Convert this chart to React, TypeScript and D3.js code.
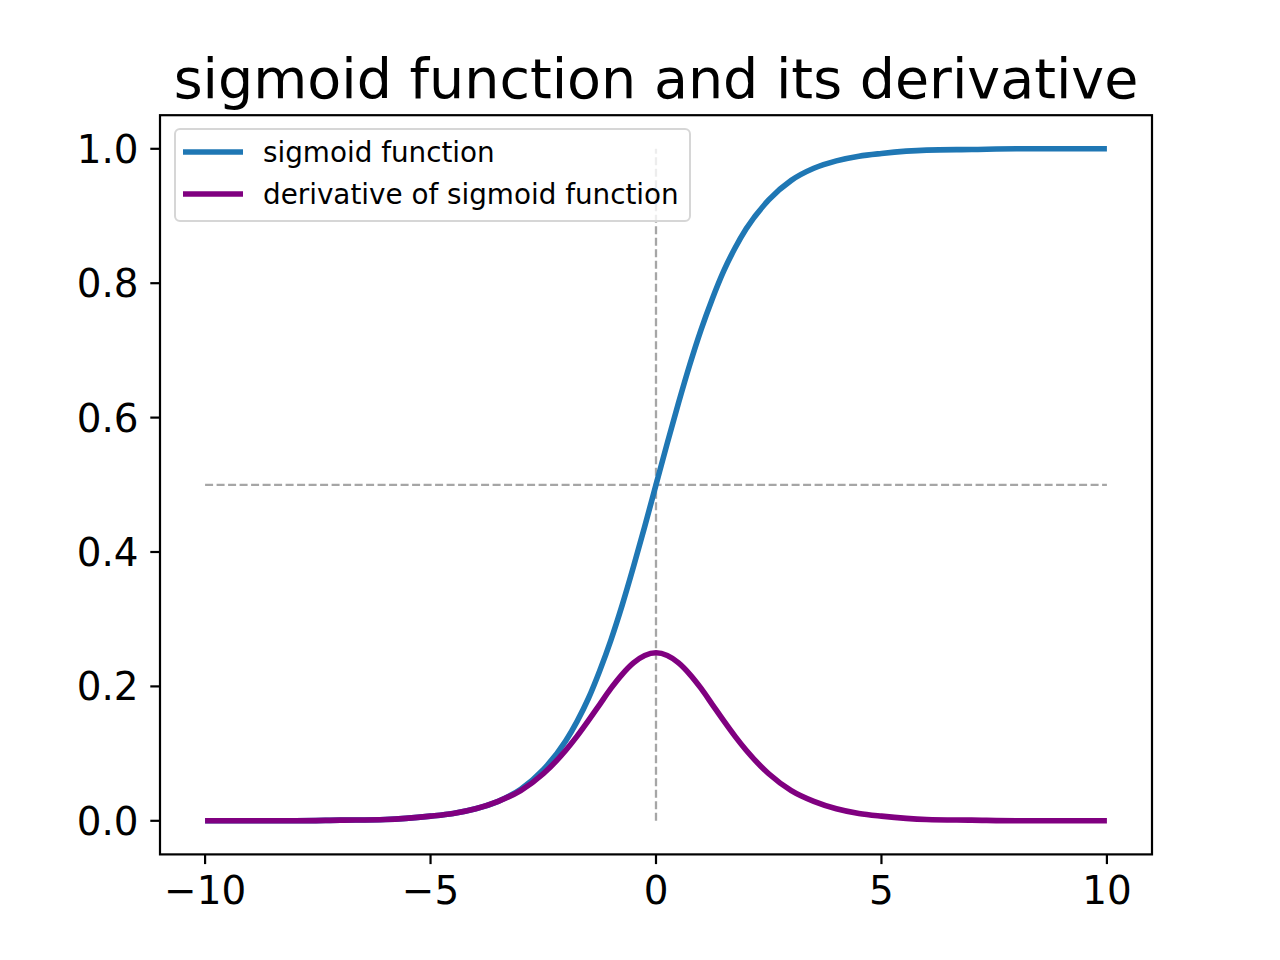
import React from "react";
import * as d3 from "d3";

const xValues = [-10, -9, -8, -7, -6, -5, -4.5, -4, -3.5, -3, -2.5, -2, -1.75, -1.5, -1.25, -1, -0.75, -0.5, -0.25, 0, 0.25, 0.5, 0.75, 1, 1.25, 1.5, 1.75, 2, 2.5, 3, 3.5, 4, 4.5, 5, 6, 7, 8, 9, 10];
const sigmoidValues = [0.0, 0.0, 0.0, 0.001, 0.002, 0.007, 0.011, 0.018, 0.029, 0.047, 0.076, 0.119, 0.148, 0.182, 0.223, 0.269, 0.321, 0.378, 0.438, 0.5, 0.562, 0.622, 0.679, 0.731, 0.777, 0.818, 0.852, 0.881, 0.924, 0.953, 0.971, 0.982, 0.989, 0.993, 0.998, 0.999, 1.0, 1.0, 1.0];
const derivativeValues = [0.0, 0.0, 0.0, 0.001, 0.002, 0.007, 0.011, 0.018, 0.029, 0.045, 0.070, 0.105, 0.126, 0.149, 0.173, 0.197, 0.218, 0.235, 0.246, 0.25, 0.246, 0.235, 0.218, 0.197, 0.173, 0.149, 0.126, 0.105, 0.070, 0.045, 0.029, 0.018, 0.011, 0.007, 0.002, 0.001, 0.0, 0.0, 0.0];
const xTicks = [-10, -5, 0, 5, 10];
const yTicks = [0.0, 0.2, 0.4, 0.6, 0.8, 1.0];
const seriesNames = ["sigmoid function", "derivative of sigmoid function"];
const seriesColors = ["#1f77b4", "#800080"];
const titleText = "sigmoid function and its derivative";

export default function App() {
  const W = 1280, H = 960;
  const left = 160, right = 1152, top = 115.2, bottom = 854.4;
  const x = d3.scaleLinear().domain([-11, 11]).range([left, right]);
  const y = d3.scaleLinear().domain([-0.05, 1.05]).range([bottom, top]);
  const font = "DejaVu Sans, sans-serif";
  const line = d3
    .line<number>()
    .x((_, i) => x(xValues[i]))
    .y((d) => y(d))
    .curve(d3.curveMonotoneX);
  const fmtX = (v: number) => (v < 0 ? "\u2212" + Math.abs(v) : String(v));
  const series = [sigmoidValues, derivativeValues];
  return (
    <svg width={W} height={H} style={{ position: "absolute", left: 0, top: 0, background: "#fff" }}>
      <rect x={0} y={0} width={W} height={H} fill="#fff" />
      <text x={(left + right) / 2} y={98} textAnchor="middle" fontFamily={font} fontSize={55.5} fill="#000">
        {titleText}
      </text>
      {/* dashed guides */}
      <line x1={x(0)} x2={x(0)} y1={y(0)} y2={y(1)} stroke="#a6a6a6" strokeWidth={2.3} strokeDasharray="8,3.5" />
      <line x1={x(-10)} x2={x(10)} y1={y(0.5)} y2={y(0.5)} stroke="#a6a6a6" strokeWidth={2.3} strokeDasharray="8,3.5" />
      {series.map((s, i) => (
        <path key={i} d={line(s) || ""} fill="none" stroke={seriesColors[i]} strokeWidth={5.6} strokeLinecap="butt" strokeLinejoin="round" />
      ))}
      {/* axes frame */}
      <rect x={left} y={top} width={right - left} height={bottom - top} fill="none" stroke="#000" strokeWidth={2.2} />
      {xTicks.map((t) => (
        <g key={"x" + t}>
          <line x1={x(t)} x2={x(t)} y1={bottom} y2={bottom + 9.7} stroke="#000" strokeWidth={2.2} />
          <text x={x(t)} y={bottom + 50} textAnchor="middle" fontFamily={font} fontSize={38.9} fill="#000">
            {fmtX(t)}
          </text>
        </g>
      ))}
      {yTicks.map((t) => (
        <g key={"y" + t}>
          <line x1={left - 9.7} x2={left} y1={y(t)} y2={y(t)} stroke="#000" strokeWidth={2.2} />
          <text x={left - 21.5} y={y(t) + 14} textAnchor="end" fontFamily={font} fontSize={38.9} fill="#000">
            {t.toFixed(1)}
          </text>
        </g>
      ))}
      {/* legend */}
      <rect x={175} y={129} width={515} height={92} rx={5} ry={5} fill="#fff" fillOpacity={0.8} stroke="#d6d6d6" strokeWidth={2} />
      {seriesNames.map((n, i) => (
        <g key={n}>
          <line x1={183} x2={243} y1={152 + i * 42} y2={152 + i * 42} stroke={seriesColors[i]} strokeWidth={5.6} />
          <text x={263} y={162 + i * 42} fontFamily={font} fontSize={27.8} fill="#000">
            {n}
          </text>
        </g>
      ))}
    </svg>
  );
}
